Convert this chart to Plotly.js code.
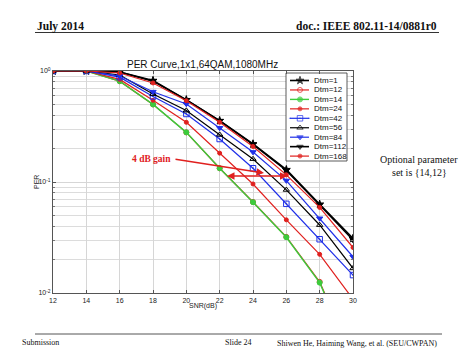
<!DOCTYPE html>
<html>
<head>
<meta charset="utf-8">
<script src="https://cdn.plot.ly/plotly-3.0.1.min.js"></script>
<style>html,body{margin:0;padding:0;background:#fff;}#chart{width:474px;height:355px;}</style>
</head>
<body>
<div id="chart"></div>
<script>
// ---- data ----
const snr = [12, 14, 16, 18, 20, 22, 24, 26, 28, 30];
const dtmNames = ['Dtm=1','Dtm=12','Dtm=14','Dtm=24','Dtm=42','Dtm=56','Dtm=84','Dtm=112','Dtm=168'];
const per_dtm1   = [1, 1, 0.98, 0.82, 0.55, 0.357, 0.220, 0.129, 0.063, 0.0310];
const per_dtm12  = [1, 1, 0.81, 0.50, 0.28, 0.133, 0.066, 0.0320, 0.0126, 0.0026];
const per_dtm14  = [1, 1, 0.81, 0.50, 0.28, 0.133, 0.0658, 0.0318, 0.0124, 0.0025];
const per_dtm24  = [1, 1, 0.84, 0.545, 0.345, 0.182, 0.096, 0.0456, 0.0223, 0.0088];
const per_dtm42  = [1, 1, 0.88, 0.59, 0.41, 0.244, 0.133, 0.0636, 0.0305, 0.0145];
const per_dtm56  = [1, 1, 0.92, 0.62, 0.44, 0.267, 0.161, 0.085, 0.041, 0.0167];
const per_dtm84  = [1, 1, 0.90, 0.65, 0.505, 0.307, 0.186, 0.103, 0.047, 0.0212];
const per_dtm112 = [1, 1, 0.98, 0.81, 0.55, 0.355, 0.218, 0.127, 0.062, 0.0300];
const per_dtm168 = [1, 1, 0.96, 0.78, 0.54, 0.345, 0.209, 0.116, 0.059, 0.0257];
const perSeries = [per_dtm1, per_dtm12, per_dtm14, per_dtm24, per_dtm42, per_dtm56, per_dtm84, per_dtm112, per_dtm168];
const xTicks = [12, 14, 16, 18, 20, 22, 24, 26, 28, 30];
const yTickVals = [0.01, 0.1, 1];
const yTickText = ['10<sup>-2</sup>', '10<sup>-1</sup>', '10<sup>0</sup>'];

// ---- styles ----
const RED = '#e0201e', GREEN = '#3ccc3c', BLUE = '#1f2fe8', BLACK = '#000000';
const styles = [
  {color: BLACK, symbol: 'star', size: 6, width: 1.6},
  {color: RED, symbol: 'circle-open', size: 5, width: 1.2},
  {color: GREEN, symbol: 'circle', size: 5, width: 1.4},
  {color: RED, symbol: 'circle', size: 4, width: 1.2},
  {color: BLUE, symbol: 'square-open-dot', size: 5.5, width: 1.2},
  {color: BLACK, symbol: 'triangle-up-open', size: 5.5, width: 1.2},
  {color: BLUE, symbol: 'triangle-down', size: 5.5, width: 1.2},
  {color: BLACK, symbol: 'triangle-down', size: 5.5, width: 1.6},
  {color: RED, symbol: 'circle', size: 4, width: 1.2}
];

// plot area in pixels
const L = 53, R = 353, T = 71, B = 293;
const px = x => (x - L) / (R - L);
const py = y => (B - y) / (B - T);

const traces = perSeries.map((vals, i) => ({
  x: snr, y: vals, type: 'scatter', mode: 'lines+markers', name: dtmNames[i],
  showlegend: false,
  line: {color: styles[i].color, width: styles[i].width},
  marker: {color: styles[i].color, symbol: styles[i].symbol, size: styles[i].size,
           line: {color: styles[i].color, width: 1}}
}));

// custom legend on a pixel-space overlay axis
const legL = 286, legR = 347, legT = 73, legB = 161;
traces.push({
  x: [legL, legR, legR, legL, legL], y: [legT, legT, legB, legB, legT],
  xaxis: 'x2', yaxis: 'y2', type: 'scatter', mode: 'lines', fill: 'toself',
  fillcolor: '#ffffff', line: {color: '#333', width: 0.8}, showlegend: false, hoverinfo: 'skip'
});
const annotations = [];
dtmNames.forEach((n, i) => {
  const yy = 80.5 + i * 9.45;
  traces.push({
    x: [290, 300, 309], y: [yy, yy, yy], xaxis: 'x2', yaxis: 'y2', type: 'scatter',
    mode: 'lines+markers', showlegend: false, hoverinfo: 'skip', cliponaxis: false,
    line: {color: styles[i].color, width: styles[i].width},
    marker: {color: styles[i].color, symbol: styles[i].symbol, size: [0, styles[i].size, 0],
             line: {color: styles[i].color, width: 1}}
  });
  annotations.push({xref: 'paper', yref: 'paper', x: px(312), y: py(yy), xanchor: 'left', yanchor: 'middle',
    text: n, showarrow: false, font: {family: 'Liberation Sans, Arial', size: 8, color: '#111'}});
});

const serif = 'Liberation Serif, Times New Roman, serif';
const sans = 'Liberation Sans, Arial, sans-serif';
annotations.push(
  {xref: 'paper', yref: 'paper', x: px(202), y: py(64), text: 'PER Curve,1x1,64QAM,1080MHz', showarrow: false,
   xanchor: 'center', yanchor: 'middle', font: {family: sans, size: 10, color: '#111'}},
  {xref: 'paper', yref: 'paper', x: px(203), y: py(306), text: 'SNR(dB)', showarrow: false,
   xanchor: 'center', yanchor: 'middle', font: {family: sans, size: 7, color: '#222'}},
  {xref: 'paper', yref: 'paper', x: px(36), y: py(182), text: 'PER', showarrow: false, textangle: -90,
   xanchor: 'center', yanchor: 'middle', font: {family: sans, size: 7, color: '#222'}},
  {xref: 'paper', yref: 'paper', x: px(35), y: py(26), text: '<b>July 2014</b>', showarrow: false,
   xanchor: 'left', yanchor: 'middle', font: {family: serif, size: 11.5, color: '#111'}},
  {xref: 'paper', yref: 'paper', x: px(439), y: py(26), text: '<b>doc.: IEEE 802.11-14/0881r0</b>', showarrow: false,
   xanchor: 'right', yanchor: 'middle', font: {family: serif, size: 11.5, color: '#111'}},
  {xref: 'paper', yref: 'paper', x: px(20), y: py(342), text: 'Submission', showarrow: false,
   xanchor: 'left', yanchor: 'middle', font: {family: serif, size: 8, color: '#111'}},
  {xref: 'paper', yref: 'paper', x: px(238), y: py(342), text: 'Slide 24', showarrow: false,
   xanchor: 'center', yanchor: 'middle', font: {family: serif, size: 8, color: '#111'}},
  {xref: 'paper', yref: 'paper', x: px(439), y: py(343), text: 'Shiwen He, Haiming Wang, et al. (SEU/CWPAN)', showarrow: false,
   xanchor: 'right', yanchor: 'middle', font: {family: serif, size: 8, color: '#111'}},
  {xref: 'paper', yref: 'paper', x: px(419), y: py(159), text: 'Optional parameter', showarrow: false,
   xanchor: 'center', yanchor: 'middle', font: {family: serif, size: 10, color: '#111'}},
  {xref: 'paper', yref: 'paper', x: px(419), y: py(172.5), text: 'set is {14,12}', showarrow: false,
   xanchor: 'center', yanchor: 'middle', font: {family: serif, size: 10, color: '#111'}},
  {xref: 'paper', yref: 'paper', x: px(151), y: py(158.5), text: '<b>4 dB gain</b>', showarrow: false,
   xanchor: 'center', yanchor: 'middle', font: {family: serif, size: 9.5, color: RED}},
  {xref: 'paper', yref: 'paper', x: px(264), y: py(173), ax: -90, ay: -14, text: '', showarrow: true,
   arrowhead: 2, arrowsize: 1, arrowwidth: 1.5, arrowcolor: RED, standoff: 0, startstandoff: 0},
  {xref: 'paper', yref: 'paper', x: px(227), y: py(176), ax: 62, ay: 0, text: '', showarrow: true,
   arrowhead: 2, startarrowhead: 2, arrowside: 'end+start', arrowsize: 1, arrowwidth: 1.5, arrowcolor: RED,
   standoff: 0, startstandoff: 0}
);

const shapes = [
  {type: 'line', xref: 'paper', yref: 'paper', x0: px(35), x1: px(439), y0: py(32.5), y1: py(32.5),
   line: {color: '#333', width: 1}},
  {type: 'line', xref: 'paper', yref: 'paper', x0: px(35), x1: px(442), y0: py(334), y1: py(334),
   line: {color: '#555', width: 1}}
];

const minorVals = [];
[0.01, 0.1].forEach(d => { for (let k = 2; k <= 9; k++) minorVals.push(d * k); });

const layout = {
  width: 474, height: 355,
  margin: {l: L, r: 474 - R, t: T, b: 355 - B, pad: 0},
  paper_bgcolor: '#ffffff', plot_bgcolor: '#ffffff',
  showlegend: false,
  xaxis: {
    range: [12, 30], tickvals: xTicks, ticks: 'inside', ticklen: 3, tickcolor: '#555',
    showline: true, linecolor: '#555', linewidth: 1, mirror: 'ticks',
    showgrid: true, gridcolor: '#d6d6d6', gridwidth: 1, zeroline: false,
    tickfont: {family: sans, size: 7, color: '#222'}, ticklabelstandoff: 1
  },
  yaxis: {
    type: 'log', range: [-2, 0], tickvals: yTickVals, ticktext: yTickText,
    ticks: 'inside', ticklen: 3, tickcolor: '#555',
    showline: true, linecolor: '#555', linewidth: 1, mirror: 'ticks',
    showgrid: true, gridcolor: '#d6d6d6', gridwidth: 1, zeroline: false,
    tickfont: {family: sans, size: 7, color: '#222'},
    minor: {tickvals: minorVals, ticks: 'inside', ticklen: 2, tickcolor: '#777',
            showgrid: true, gridcolor: '#dcdcdc', gridwidth: 1}
  },
  xaxis2: {overlaying: 'x', range: [L, R], visible: false, fixedrange: true},
  yaxis2: {overlaying: 'y', range: [B, T], visible: false, fixedrange: true},
  annotations: annotations,
  shapes: shapes
};

Plotly.newPlot('chart', traces, layout, {displayModeBar: false, staticPlot: true});
</script>
</body>
</html>
